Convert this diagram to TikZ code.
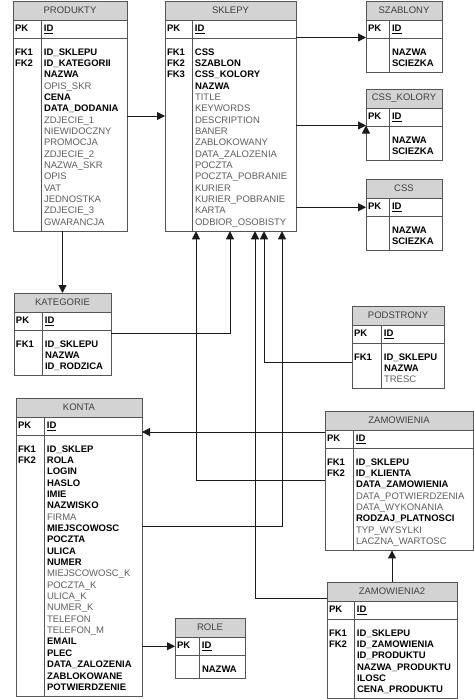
\documentclass[tikz,border=0pt]{standalone}
\usepackage{fontspec}
\setmainfont{Liberation Sans}
\usetikzlibrary{positioning,calc,arrows.meta}
\definecolor{tabdraw}{HTML}{555555}
\definecolor{tabhead}{HTML}{D3D3D3}
\definecolor{tabtext}{HTML}{404040}
\definecolor{optgray}{HTML}{5E5E5E}
\definecolor{linecol}{HTML}{1A1A1A}
\newcommand{\tabfont}{\fontsize{9.5}{11.35}\selectfont}
\newcommand{\fld}[1]{\textbf{#1}}
\newcommand{\fldg}[1]{\textcolor{optgray}{#1}}
\newcommand{\topgap}{\rule{0pt}{13.9pt}}
\tikzset{
  tabtitle/.style={draw=tabdraw, line width=0.8pt, fill=tabhead, text=tabtext,
    minimum height=19pt, inner sep=0pt, outer sep=0pt, font=\tabfont},
  tabkey/.style={draw=tabdraw, line width=0.8pt, fill=white, minimum height=18.5pt,
    inner xsep=2pt, inner ysep=0pt, outer sep=0pt, align=left, font=\tabfont},
  tabbody/.style={draw=tabdraw, line width=0.8pt, fill=white, inner xsep=2pt,
    inner ysep=2.6pt, outer sep=0pt, align=left, font=\tabfont},
  tabsep/.style={draw=tabdraw, line width=0.8pt},
  fk/.style={draw=linecol, line width=1pt, -{Triangle[length=8pt,width=8pt]}}
}
\begin{document}
\begin{tikzpicture}[x=1pt,y=1pt]
\useasboundingbox (0,0) rectangle (474,-699);
% PRODUKTY
\node(produkty) [tabtitle, minimum width=114, anchor=north west] at (13,-1) {PRODUKTY};
\node(produkty-pk) [tabkey, text width=110, below=0pt of produkty] {\begin{tabular}{@{}p{29pt}@{}l@{}}\fld{PK} & \fld{\underline{ID}}\end{tabular}};
\node(produkty-body) [tabbody, text width=110, below=0pt of produkty-pk] {\begin{tabular}{@{}p{29pt}@{}l@{}}
\fld{FK1} & \topgap\fld{ID\_SKLEPU}\\
\fld{FK2} & \fld{ID\_KATEGORII}\\
 & \fld{NAZWA}\\
 & \fldg{OPIS\_SKR}\\
 & \fld{CENA}\\
 & \fld{DATA\_DODANIA}\\
 & \fldg{ZDJECIE\_1}\\
 & \fldg{NIEWIDOCZNY}\\
 & \fldg{PROMOCJA}\\
 & \fldg{ZDJECIE\_2}\\
 & \fldg{NAZWA\_SKR}\\
 & \fldg{OPIS}\\
 & \fldg{VAT}\\
 & \fldg{JEDNOSTKA}\\
 & \fldg{ZDJECIE\_3}\\
 & \fldg{GWARANCJA}
\end{tabular}};
% SKLEPY
\node(sklepy) [tabtitle, minimum width=131, anchor=north west] at (165,-1) {SKLEPY};
\node(sklepy-pk) [tabkey, text width=127, below=0pt of sklepy] {\begin{tabular}{@{}p{28pt}@{}l@{}}\fld{PK} & \fld{\underline{ID}}\end{tabular}};
\node(sklepy-body) [tabbody, text width=127, below=0pt of sklepy-pk] {\begin{tabular}{@{}p{28pt}@{}l@{}}
\fld{FK1} & \topgap\fld{CSS}\\
\fld{FK2} & \fld{SZABLON}\\
\fld{FK3} & \fld{CSS\_KOLORY}\\
 & \fld{NAZWA}\\
 & \fldg{TITLE}\\
 & \fldg{KEYWORDS}\\
 & \fldg{DESCRIPTION}\\
 & \fldg{BANER}\\
 & \fldg{ZABLOKOWANY}\\
 & \fldg{DATA\_ZALOZENIA}\\
 & \fldg{POCZTA}\\
 & \fldg{POCZTA\_POBRANIE}\\
 & \fldg{KURIER}\\
 & \fldg{KURIER\_POBRANIE}\\
 & \fldg{KARTA}\\
 & \fldg{ODBIOR\_OSOBISTY}
\end{tabular}};
% SZABLONY, CSS_KOLORY, CSS
\node(szablony) [tabtitle, minimum width=76, anchor=north west] at (366,-1) {SZABLONY};
\node(szablony-pk) [tabkey, text width=72, below=0pt of szablony] {\begin{tabular}{@{}p{24pt}@{}l@{}}\fld{PK} & \fld{\underline{ID}}\end{tabular}};
\node(szablony-body) [tabbody, text width=72, below=0pt of szablony-pk] {\begin{tabular}{@{}p{24pt}@{}l@{}}
 & \topgap\fld{NAZWA}\\
 & \fld{SCIEZKA}
\end{tabular}};
\node(csskolory) [tabtitle, minimum width=76, anchor=north west] at (366,-89) {CSS\_KOLORY};
\node(csskolory-pk) [tabkey, text width=72, below=0pt of csskolory] {\begin{tabular}{@{}p{24pt}@{}l@{}}\fld{PK} & \fld{\underline{ID}}\end{tabular}};
\node(csskolory-body) [tabbody, text width=72, below=0pt of csskolory-pk] {\begin{tabular}{@{}p{24pt}@{}l@{}}
 & \topgap\fld{NAZWA}\\
 & \fld{SCIEZKA}
\end{tabular}};
\node(css) [tabtitle, minimum width=76, anchor=north west] at (366,-179) {CSS};
\node(css-pk) [tabkey, text width=72, below=0pt of css] {\begin{tabular}{@{}p{24pt}@{}l@{}}\fld{PK} & \fld{\underline{ID}}\end{tabular}};
\node(css-body) [tabbody, text width=72, below=0pt of css-pk] {\begin{tabular}{@{}p{24pt}@{}l@{}}
 & \topgap\fld{NAZWA}\\
 & \fld{SCIEZKA}
\end{tabular}};
% KATEGORIE
\node(kategorie) [tabtitle, minimum width=97, anchor=north west] at (14,-293) {KATEGORIE};
\node(kategorie-pk) [tabkey, text width=93, below=0pt of kategorie] {\begin{tabular}{@{}p{29pt}@{}l@{}}\fld{PK} & \fld{\underline{ID}}\end{tabular}};
\node(kategorie-body) [tabbody, text width=93, below=0pt of kategorie-pk] {\begin{tabular}{@{}p{29pt}@{}l@{}}
\fld{FK1} & \topgap\fld{ID\_SKLEPU}\\
 & \fld{NAZWA}\\
 & \fld{ID\_RODZICA}
\end{tabular}};
% PODSTRONY
\node(podstrony) [tabtitle, minimum width=92, anchor=north west] at (352,-306) {PODSTRONY};
\node(podstrony-pk) [tabkey, text width=88, below=0pt of podstrony] {\begin{tabular}{@{}p{30pt}@{}l@{}}\fld{PK} & \fld{\underline{ID}}\end{tabular}};
\node(podstrony-body) [tabbody, text width=88, below=0pt of podstrony-pk] {\begin{tabular}{@{}p{30pt}@{}l@{}}
\fld{FK1} & \topgap\fld{ID\_SKLEPU}\\
 & \fld{NAZWA}\\
 & \fldg{TRESC}
\end{tabular}};
% KONTA
\node(konta) [tabtitle, minimum width=126, anchor=north west] at (16,-398) {KONTA};
\node(konta-pk) [tabkey, text width=122, below=0pt of konta] {\begin{tabular}{@{}p{29pt}@{}l@{}}\fld{PK} & \fld{\underline{ID}}\end{tabular}};
\node(konta-body) [tabbody, text width=122, below=0pt of konta-pk] {\begin{tabular}{@{}p{29pt}@{}l@{}}
\fld{FK1} & \topgap\fld{ID\_SKLEP}\\
\fld{FK2} & \fld{ROLA}\\
 & \fld{LOGIN}\\
 & \fld{HASLO}\\
 & \fld{IMIE}\\
 & \fld{NAZWISKO}\\
 & \fldg{FIRMA}\\
 & \fld{MIEJSCOWOSC}\\
 & \fld{POCZTA}\\
 & \fld{ULICA}\\
 & \fld{NUMER}\\
 & \fldg{MIEJSCOWOSC\_K}\\
 & \fldg{POCZTA\_K}\\
 & \fldg{ULICA\_K}\\
 & \fldg{NUMER\_K}\\
 & \fldg{TELEFON}\\
 & \fldg{TELEFON\_M}\\
 & \fld{EMAIL}\\
 & \fld{PLEC}\\
 & \fld{DATA\_ZALOZENIA}\\
 & \fld{ZABLOKOWANE}\\
 & \fld{POTWIERDZENIE}
\end{tabular}};
% ZAMOWIENIA
\node(zamowienia) [tabtitle, minimum width=148, anchor=north west] at (325,-411) {ZAMOWIENIA};
\node(zamowienia-pk) [tabkey, text width=144, below=0pt of zamowienia] {\begin{tabular}{@{}p{29pt}@{}l@{}}\fld{PK} & \fld{\underline{ID}}\end{tabular}};
\node(zamowienia-body) [tabbody, text width=144, below=0pt of zamowienia-pk] {\begin{tabular}{@{}p{29pt}@{}l@{}}
\fld{FK1} & \topgap\fld{ID\_SKLEPU}\\
\fld{FK2} & \fld{ID\_KLIENTA}\\
 & \fld{DATA\_ZAMOWIENIA}\\
 & \fldg{DATA\_POTWIERDZENIA}\\
 & \fldg{DATA\_WYKONANIA}\\
 & \fld{RODZAJ\_PLATNOSCI}\\
 & \fldg{TYP\_WYSYLKI}\\
 & \fldg{LACZNA\_WARTOSC}
\end{tabular}};
% ZAMOWIENIA2
\node(zamowienia2) [tabtitle, minimum width=130, anchor=north west] at (327,-582) {ZAMOWIENIA2};
\node(zamowienia2-pk) [tabkey, text width=126, below=0pt of zamowienia2] {\begin{tabular}{@{}p{28pt}@{}l@{}}\fld{PK} & \fld{\underline{ID}}\end{tabular}};
\node(zamowienia2-body) [tabbody, text width=126, below=0pt of zamowienia2-pk] {\begin{tabular}{@{}p{28pt}@{}l@{}}
\fld{FK1} & \topgap\fld{ID\_SKLEPU}\\
\fld{FK2} & \fld{ID\_ZAMOWIENIA}\\
 & \fld{ID\_PRODUKTU}\\
 & \fld{NAZWA\_PRODUKTU}\\
 & \fld{ILOSC}\\
 & \fld{CENA\_PRODUKTU}
\end{tabular}};
% ROLE
\node(role) [tabtitle, minimum width=70, anchor=north west] at (175,-618) {ROLE};
\node(role-pk) [tabkey, text width=66, below=0pt of role] {\begin{tabular}{@{}p{25pt}@{}l@{}}\fld{PK} & \fld{\underline{ID}}\end{tabular}};
\node(role-body) [tabbody, text width=66, below=0pt of role-pk] {\begin{tabular}{@{}p{25pt}@{}l@{}}
 & \topgap\fld{NAZWA}
\end{tabular}};
% column lines
\foreach \t/\d in {produkty/28, sklepy/27, szablony/23, csskolory/23, css/23, kategorie/28,
  podstrony/29, konta/28, zamowienia/28, zamowienia2/27, role/24}
  \draw[tabsep] ($(\t-pk.north west)+(\d,0)$) -- ($(\t-body.south west)+(\d,0)$);
% arrow ends under SKLEPY
\foreach \n/\dx in {a/31, b/65, c/90, d/99, e/117}
  \coordinate (sk-\n) at ($(sklepy-body.south west)+(\dx,0)$);
% references
\draw[fk] (produkty-body.north east) ++(0,-77.5) coordinate (pr1) -- (pr1 -| sklepy-body.west);
\draw[fk] (kategorie.north |- produkty-body.south) -- (kategorie.north);
\draw[fk] (sklepy-pk.south east) ++(0,1) coordinate (sz1) -- (sz1 -| szablony-pk.west);
\draw[fk] (csskolory-pk.south west) ++(0,1) coordinate (ck1);
\draw[fk] (ck1 -| sklepy-body.east) -- (ck1);
\draw[fk] (css-pk.west -| sklepy-body.east) -- (css-pk.west);
\draw[fk] (kategorie-body.north east) ++(0,-3) coordinate (ka1) -| (sk-b);
\draw[fk] (zamowienia-body.north west) ++(0,-31.5) coordinate (za1) -| (sk-a);
\draw[fk] (zamowienia2.south west) ++(0,3) coordinate (zb1) -| (sk-c);
\draw[fk] (podstrony-body.north west) ++(0,-18.5) coordinate (po1) -| (sk-d);
\draw[fk] (konta-body.north east) ++(0,-91) coordinate (ko1) -| (sk-e);
\draw[fk] (zamowienia-pk.north west) ++(0,-2) coordinate (za2) -- (za2 -| konta-pk.east);
\draw[fk] (zamowienia2.north) -- (zamowienia2.north |- zamowienia-body.south);
\draw[fk] (role-pk.west -| konta-body.east) -- (role-pk.west);
\end{tikzpicture}
\end{document}
